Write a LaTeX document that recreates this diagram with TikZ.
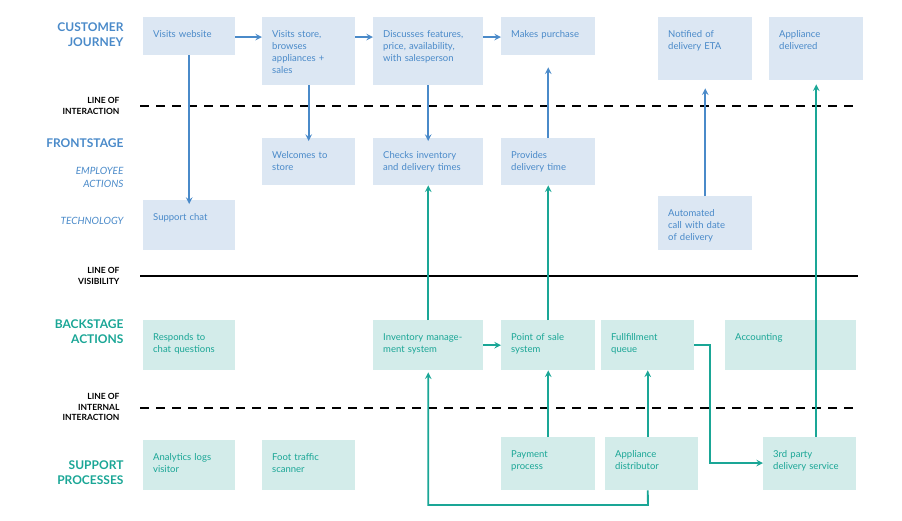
\documentclass[tikz,border=0pt]{standalone}
\usepackage{fontspec}
\setmainfont{Lato}
\usetikzlibrary{positioning}
\definecolor{journeyBlue}{RGB}{74,138,201}
\definecolor{journeyFill}{RGB}{220,231,243}
\definecolor{backTeal}{RGB}{26,166,150}
\definecolor{backFill}{RGB}{211,236,234}
\tikzstyle{blueBox} = [fill=journeyFill, draw=none, anchor=north west]
\tikzstyle{tealBox} = [fill=backFill, draw=none, anchor=north west]
\tikzstyle{boxText} = [anchor=north west, inner sep=0pt, align=left, font=\fontsize{9.5}{12}\selectfont]
\tikzstyle{blueArrow} = [color=journeyBlue, line width=1.9pt, -stealth]
\tikzstyle{tealArrow} = [color=backTeal, line width=1.9pt, -stealth]
\tikzstyle{laneTitle} = [anchor=east, align=right, font=\bfseries\fontsize{12}{15}\selectfont]
\tikzstyle{laneSub} = [anchor=east, align=right, font=\itshape\fontsize{10}{13}\selectfont, color=journeyBlue]
\tikzstyle{lineTitle} = [anchor=east, align=right, font=\bfseries\fontsize{8.5}{10.5}\selectfont]
\newcommand{\stepBox}[8]{
  \pgfmathsetmacro{\boxTextWidth}{#4 - 16}
  \node [#7, minimum width=#4, minimum height=#5] (#1) at (#2,#3) {};
  \node [boxText, text width=\boxTextWidth pt, color=#8] at ([xshift=10, yshift=-13]#1.north west) {#6};
}
\begin{document}
\begin{tikzpicture}[x=1pt, y=-1pt]
  \useasboundingbox (0,0) rectangle (902,520);

  % lane titles
  \node [laneTitle, color=journeyBlue] at (127,35) {CUSTOMER\\JOURNEY};
  \node [lineTitle] at (123,106) {LINE OF\\INTERACTION};
  \node [laneTitle, color=journeyBlue] at (127,143) {FRONTSTAGE};
  \node [laneSub] at (127,177) {EMPLOYEE\\ACTIONS};
  \node [laneSub] at (127,221) {TECHNOLOGY};
  \node [lineTitle] at (123,276) {LINE OF\\VISIBILITY};
  \node [laneTitle, color=backTeal] at (127,332) {BACKSTAGE\\ACTIONS};
  \node [lineTitle] at (123,407) {LINE OF\\INTERNAL\\INTERACTION};
  \node [laneTitle, color=backTeal] at (127,473) {SUPPORT\\PROCESSES};

  % separators
  \draw [line width=1.8pt, dash pattern=on 9pt off 7pt] (140,106) -- (858,106);
  \draw [line width=1.5pt] (140,276) -- (858,276);
  \draw [line width=1.8pt, dash pattern=on 9pt off 7pt] (140,408) -- (858,408);

  % customer journey
  \stepBox{website}{143}{17}{92}{38}{Visits website}{blueBox}{journeyBlue}
  \stepBox{store}{262}{17}{93}{68}{Visits store,\\browses\\appliances +\\sales}{blueBox}{journeyBlue}
  \stepBox{discuss}{373}{17}{110}{68}{Discusses features,\\price, availability,\\with salesperson}{blueBox}{journeyBlue}
  \stepBox{purchase}{501}{17}{94}{38}{Makes purchase}{blueBox}{journeyBlue}
  \stepBox{notified}{658}{17}{94}{63}{Notified of\\delivery ETA}{blueBox}{journeyBlue}
  \stepBox{delivered}{769}{17}{94}{63}{Appliance\\delivered}{blueBox}{journeyBlue}

  % frontstage
  \stepBox{welcome}{262}{138}{93}{47}{Welcomes to\\store}{blueBox}{journeyBlue}
  \stepBox{checks}{373}{138}{110}{47}{Checks inventory\\and delivery times}{blueBox}{journeyBlue}
  \stepBox{provides}{501}{138}{94}{47}{Provides\\delivery time}{blueBox}{journeyBlue}
  \stepBox{chat}{143}{200}{92}{50}{Support chat}{blueBox}{journeyBlue}
  \stepBox{call}{658}{196}{94}{54}{Automated\\call with date\\of delivery}{blueBox}{journeyBlue}

  % backstage
  \stepBox{responds}{143}{320}{92}{50}{Responds to\\chat questions}{tealBox}{backTeal}
  \stepBox{inventory}{373}{320}{110}{50}{Inventory manage-\\ment system}{tealBox}{backTeal}
  \stepBox{pos}{501}{320}{94}{50}{Point of sale\\system}{tealBox}{backTeal}
  \stepBox{queue}{601}{320}{93}{50}{Fullfillment\\queue}{tealBox}{backTeal}
  \stepBox{accounting}{725}{320}{131}{50}{Accounting}{tealBox}{backTeal}

  % support
  \stepBox{analytics}{143}{440}{92}{50}{Analytics logs\\visitor}{tealBox}{backTeal}
  \stepBox{foot}{262}{440}{93}{50}{Foot traffic\\scanner}{tealBox}{backTeal}
  \stepBox{payment}{501}{437}{94}{53}{Payment\\process}{tealBox}{backTeal}
  \stepBox{distributor}{605}{437}{93}{53}{Appliance\\distributor}{tealBox}{backTeal}
  \stepBox{party}{763}{437}{93}{53}{3rd party\\delivery service}{tealBox}{backTeal}

  % blue connectors
  \draw [blueArrow] (website.east |- 0,37) -- (store.west |- 0,37);
  \draw [blueArrow] (store.east |- 0,37) -- (discuss.west |- 0,37);
  \draw [blueArrow] (discuss.east |- 0,37) -- (purchase.west |- 0,37);
  \draw [blueArrow] (website.south) -- ([yshift=-4]chat.north);
  \draw [blueArrow] (store.south) -- ([yshift=-3]welcome.north);
  \draw [blueArrow] (discuss.south) -- ([yshift=-3]checks.north);
  \draw [blueArrow] (provides.north) -- ([yshift=-12]purchase.south);
  \draw [blueArrow] (call.north) -- ([yshift=-8]notified.south);

  % teal connectors
  \draw [tealArrow] (inventory.north) -- (checks.south);
  \draw [tealArrow] (inventory.east) -- (pos.west);
  \draw [tealArrow] (pos.north) -- (provides.south);
  \draw [tealArrow] (payment.north) -- (pos.south);
  \draw [tealArrow] (distributor.north -| queue.south) -- (queue.south);
  \draw [tealArrow] (queue.east |- 0,345) -- (710,345) |- (party.west |- 0,463);
  \draw [tealArrow] (party.north -| delivered.south) -- ([yshift=-4]delivered.south);
  \draw [tealArrow] (distributor.south -| queue.south) -- (648,505) -| ([yshift=-2]inventory.south);
\end{tikzpicture}
\end{document}
